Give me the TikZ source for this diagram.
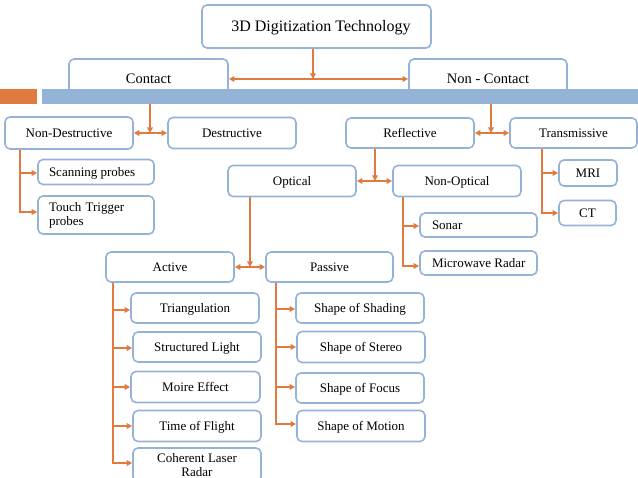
\documentclass[tikz,border=0pt]{standalone}
\usepackage{fontspec}
\setmainfont{Liberation Serif}
\usetikzlibrary{arrows.meta,calc}
\definecolor{boxc}{HTML}{95B3D7}
\definecolor{barc}{HTML}{94B3D6}
\definecolor{orng}{HTML}{E07A3F}
\begin{document}
\begin{tikzpicture}[x=1pt,y=-1pt,
  box/.style={draw=boxc, line width=1.6pt, rounded corners=5pt, fill=white,
    font=\fontsize{13}{14}\selectfont, text=black, inner sep=0pt, align=center},
  one/.style={text height=8.6pt, text depth=0pt},
  bx/.style 2 args={box, one, minimum width=#1, minimum height=#2},
  mbx/.style 2 args={box, minimum width=#1, minimum height=#2},
  lbx/.style n args={3}{box, minimum width=#1, minimum height=#2, text width=#3, align=left, inner xsep=11pt},
  arr/.style={draw=orng, line width=1.9pt, -{Triangle[length=5.5pt,width=5.5pt]}},
  darr/.style={draw=orng, line width=1.9pt, {Triangle[length=5.5pt,width=5.5pt]}-{Triangle[length=5.5pt,width=5.5pt]}}
]
\useasboundingbox (0,0) rectangle (638,478);
\clip (0,0) rectangle (638,478);

% top
\node[bx={229}{43}, font=\fontsize{16}{18}\selectfont, text height=10.6pt] (title) at (316.5,26.5) {\hspace*{9pt}3D Digitization Technology};
\node[bx={159}{40}, font=\fontsize{14.5}{16}\selectfont, text height=9.6pt] (contact) at (148.5,79) {Contact};
\node[bx={158}{40}, font=\fontsize{14.5}{16}\selectfont, text height=9.6pt] (noncontact) at (488,79) {Non - Contact};
\draw[arr] ([xshift=-3.5]title.south) -- ([xshift=-3.5]title.south |- contact.east);
\draw[darr] (contact.east) -- (noncontact.west);

% bar
\fill[barc] (42,89) rectangle (638,104);
\fill[orng] (0,89) rectangle (37,104);
\coordinate (cb) at (150,104);
\coordinate (nb) at (491,104);

% level 2
\node[bx={128}{32}] (nondes) at (69,133) {Non-Destructive};
\node[bx={128}{31}] (des) at (232,133) {Destructive};
\node[bx={128}{30}] (refl) at (410,133) {Reflective};
\node[bx={127}{30}] (trans) at (573.5,133) {Transmissive};
\draw[arr] (cb) -- (cb |- nondes.east);
\draw[darr] (nondes.east) -- (des.west);
\draw[arr] (nb) -- (nb |- refl.east);
\draw[darr] (refl.east) -- (trans.west);

% contact children
\node[bx={116}{25}] (scan) at (96,172) {\makebox[94pt][l]{Scanning probes}};
\node[lbx={116}{38}{94pt}] (touch) at (96,215) {Touch Trigger\\probes};
\draw[arr] ([xshift=16]nondes.south west) |- ([yshift=-1]scan.west);
\draw[arr] ([xshift=16]nondes.south west) |- ([yshift=3]touch.west);

% reflective children
\node[bx={128}{31}] (optical) at (292,181) {Optical};
\node[bx={128}{31}] (nonopt) at (457,181) {Non-Optical};
\draw[arr] ([xshift=-35]refl.south) -- ([xshift=-35]refl.south |- optical.east);
\draw[darr] (optical.east) -- (nonopt.west);

% transmissive children
\node[bx={58}{26}] (mri) at (588,173) {MRI};
\node[bx={57}{25}] (ct) at (587.5,213) {CT};
\draw[arr] ([xshift=33]trans.south west) |- (mri.west);
\draw[arr] ([xshift=33]trans.south west) |- (ct.west);

% non-optical children
\node[bx={117}{24}] (sonar) at (478.5,225) {\makebox[93pt][l]{Sonar}};
\node[bx={117}{24}] (mwr) at (478.5,263) {\makebox[93pt][l]{Microwave Radar}};
\draw[arr] ([xshift=11]nonopt.south west) |- ([yshift=-1]sonar.west);
\draw[arr] ([xshift=11]nonopt.south west) |- ([yshift=-3]mwr.west);

% optical children
\node[bx={128}{30}] (active) at (170,267) {Active};
\node[bx={127}{30}] (passive) at (329.5,267) {Passive};
\draw[arr] ([xshift=-42]optical.south) -- ([xshift=-42]optical.south |- active.east);
\draw[darr] (active.east) -- (passive.west);

% active children
\node[bx={128}{30}] (tri) at (195,308) {Triangulation};
\node[bx={128}{30}] (str) at (197,347) {Structured Light};
\node[bx={129}{31}] (moire) at (195.5,387) {Moire Effect};
\node[bx={128}{31}] (tof) at (197,426) {Time of Flight};
\node[mbx={128}{34}] (clr) at (197,465) {Coherent Laser\\Radar};
\draw[arr] ([xshift=8]active.south west) |- ([yshift=-2]tri.west);
\draw[arr] ([xshift=8]active.south west) |- ([yshift=-1]str.west);
\draw[arr] ([xshift=8]active.south west) |- (moire.west);
\draw[arr] ([xshift=8]active.south west) |- (tof.west);
\draw[arr] ([xshift=8]active.south west) |- ([yshift=2]clr.west);

% passive children
\node[bx={128}{30}] (sosh) at (360,308) {Shape of Shading};
\node[bx={128}{31}] (sost) at (361,347) {Shape of Stereo};
\node[bx={128}{30}] (sofo) at (360,388) {Shape of Focus};
\node[bx={128}{31}] (somo) at (361,426) {Shape of Motion};
\draw[arr] ([xshift=11]passive.south west) |- ([yshift=-1]sosh.west);
\draw[arr] ([xshift=11]passive.south west) |- (sost.west);
\draw[arr] ([xshift=11]passive.south west) |- ([yshift=1]sofo.west);
\draw[arr] ([xshift=11]passive.south west) |- ([yshift=2]somo.west);
\end{tikzpicture}
\end{document}
